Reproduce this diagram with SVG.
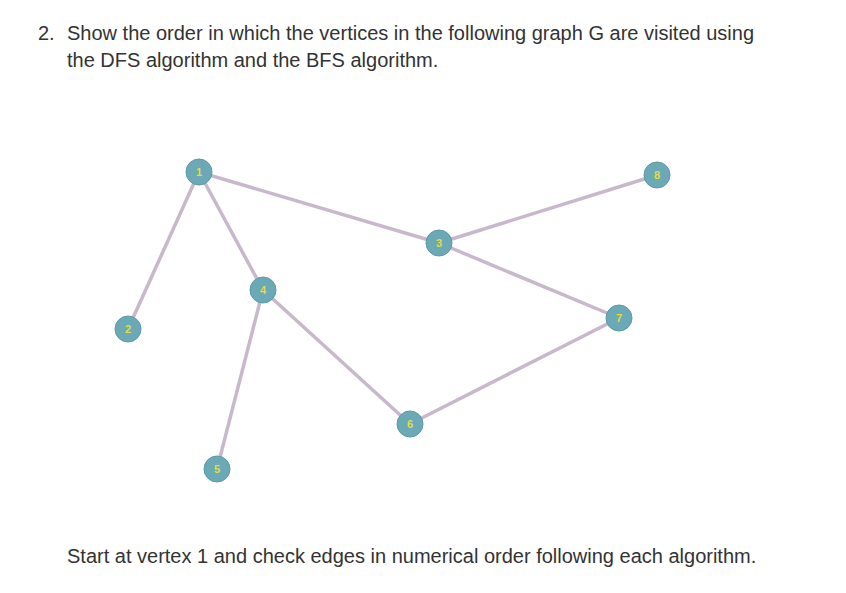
<svg xmlns="http://www.w3.org/2000/svg" width="846" height="593" viewBox="0 0 846 593">
<style>
.t{font-family:"Liberation Sans",Arial,sans-serif;font-size:20px;fill:#333}
.e{stroke:#c8b8cb;stroke-width:3.5}
.n circle{fill:#6aa9b5;stroke:#5d9aa6;stroke-width:1}
.n text{font-family:"Liberation Sans",Arial,sans-serif;font-size:11px;font-weight:bold;fill:#e5dc3c;text-anchor:middle}
</style>
<rect width="846" height="593" fill="#fff"/>
<text class="t" x="38" y="40">2.</text>
<text class="t" x="67" y="40">Show the order in which the vertices in the following graph G are visited using</text>
<text class="t" x="67" y="67">the DFS algorithm and the BFS algorithm.</text>
<g id="edges">
<line class="e" x1="199" y1="172" x2="128" y2="329"/>
<line class="e" x1="199" y1="172" x2="263" y2="290"/>
<line class="e" x1="199" y1="172" x2="439" y2="243"/>
<line class="e" x1="439" y1="243" x2="657" y2="175"/>
<line class="e" x1="439" y1="243" x2="619" y2="318"/>
<line class="e" x1="263" y1="290" x2="217" y2="469"/>
<line class="e" x1="263" y1="290" x2="410" y2="424"/>
<line class="e" x1="410" y1="424" x2="619" y2="318"/>
</g>
<g id="n1" class="n"><circle cx="199" cy="172" r="13"/><text x="199" y="176">1</text></g>
<g id="n2" class="n"><circle cx="128" cy="329" r="13"/><text x="128" y="333">2</text></g>
<g id="n3" class="n"><circle cx="439" cy="243" r="13"/><text x="439" y="247">3</text></g>
<g id="n4" class="n"><circle cx="263" cy="290" r="13"/><text x="263" y="294">4</text></g>
<g id="n5" class="n"><circle cx="217" cy="469" r="13"/><text x="217" y="473">5</text></g>
<g id="n6" class="n"><circle cx="410" cy="424" r="13"/><text x="410" y="428">6</text></g>
<g id="n7" class="n"><circle cx="619" cy="318" r="13"/><text x="619" y="322">7</text></g>
<g id="n8" class="n"><circle cx="657" cy="175" r="13"/><text x="657" y="179">8</text></g>
<text class="t" x="67" y="563">Start at vertex 1 and check edges in numerical order following each algorithm.</text>
</svg>
